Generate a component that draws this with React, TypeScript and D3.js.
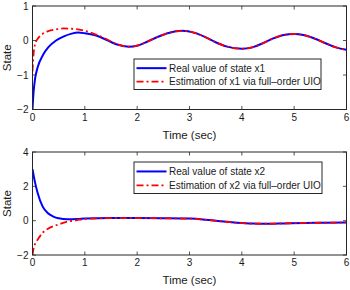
import React from "react";
import * as d3 from "d3";

const xTicks = [0, 1, 2, 3, 4, 5, 6];
const y1Ticks = [-2, -1, 0, 1];
const y2Ticks = [-2, 0, 2, 4];

const x1Time = [0, 0.02, 0.05, 0.1, 0.2, 0.3, 0.45, 0.6, 0.75, 0.87, 1.0, 1.2, 1.4, 1.6, 1.84, 2.0, 2.2, 2.4, 2.6, 2.86, 3.1, 3.3, 3.5, 3.7, 4.0, 4.2, 4.4, 4.6, 4.8, 5.0, 5.2, 5.4, 5.6, 5.8, 6.0];
const x1Real = [-2, -1.5, -1.1, -0.77, -0.42, -0.2, 0.0, 0.12, 0.2, 0.23, 0.21, 0.15, 0.03, -0.11, -0.18, -0.15, -0.03, 0.11, 0.22, 0.28, 0.22, 0.1, -0.05, -0.17, -0.24, -0.2, -0.08, 0.06, 0.16, 0.19, 0.15, 0.05, -0.08, -0.2, -0.27];
const x1Est = [-0.9, -0.4, -0.1, 0.05, 0.2, 0.27, 0.32, 0.35, 0.34, 0.32, 0.28, 0.18, 0.05, -0.1, -0.18, -0.15, -0.03, 0.11, 0.22, 0.28, 0.22, 0.1, -0.05, -0.17, -0.24, -0.2, -0.08, 0.06, 0.16, 0.19, 0.15, 0.05, -0.08, -0.2, -0.27];

const x2Time = [0, 0.03, 0.05, 0.1, 0.19, 0.29, 0.4, 0.5, 0.67, 0.85, 1.0, 1.5, 2.0, 2.5, 3.0, 3.3, 3.6, 3.9, 4.2, 4.5, 4.8, 5.2, 5.6, 6.0];
const x2Real = [3, 2.5, 2.2, 1.6, 0.85, 0.45, 0.24, 0.14, 0.08, 0.09, 0.12, 0.15, 0.15, 0.14, 0.12, 0.06, -0.04, -0.12, -0.17, -0.18, -0.16, -0.13, -0.12, -0.1];
const x2Est = [-2, -1.5, -1.35, -1.1, -0.72, -0.48, -0.32, -0.22, -0.05, 0.03, 0.1, 0.15, 0.15, 0.14, 0.12, 0.06, -0.04, -0.12, -0.17, -0.18, -0.16, -0.13, -0.12, -0.1];

const legend1 = ["Real value of state x1", "Estimation of x1 via full\u2013order UIO"];
const legend2 = ["Real value of state x2", "Estimation of x2 via full\u2013order UIO"];

const FONT = "'Liberation Sans', Arial, Helvetica, sans-serif";
const DASH = "7,3,2,3";

function fmt(v: number) {
  return v < 0 ? "\u2212" + Math.abs(v) : String(v);
}

type PanelProps = {
  id: string;
  top: number;
  bottom: number;
  yDomain: [number, number];
  yTicks: number[];
  time: number[];
  real: number[];
  est: number[];
  legend: string[];
  legendBox: { x: number; y: number; w: number; h: number };
};

function Panel(p: PanelProps) {
  const left = 32.5;
  const right = 346.5;
  const x = d3.scaleLinear().domain([0, 6]).range([left, right]);
  const y = d3.scaleLinear().domain(p.yDomain).range([p.bottom, p.top]);
  const line = d3
    .line<number>()
    .x((_, i) => x(p.time[i]))
    .y((d) => y(d))
    .curve(d3.curveMonotoneX);
  const tl = 3.5;
  const lb = p.legendBox;
  const row1 = lb.y + lb.h * 0.3;
  const row2 = lb.y + lb.h * 0.74;
  return (
    <g>
      <defs>
        <clipPath id={"clip" + p.id}>
          <rect x={left} y={p.top} width={right - left} height={p.bottom - p.top} />
        </clipPath>
      </defs>
      <rect x={left} y={p.top} width={right - left} height={p.bottom - p.top} fill="#fff" />
      <g clipPath={`url(#clip${p.id})`}>
        <path d={line(p.real) || ""} fill="none" stroke="#0000ff" strokeWidth={2} />
        <path d={line(p.est) || ""} fill="none" stroke="#ff0000" strokeWidth={1.8} strokeDasharray={DASH} />
      </g>
      {xTicks.map((t) => (
        <g key={"x" + t}>
          <line x1={x(t)} x2={x(t)} y1={p.bottom} y2={p.bottom - tl} stroke="#262626" strokeWidth={0.8} />
          <line x1={x(t)} x2={x(t)} y1={p.top} y2={p.top + tl} stroke="#262626" strokeWidth={0.8} />
          <text x={x(t)} y={p.bottom + 11} textAnchor="middle" fontSize={10} fontFamily={FONT} fill="#1a1a1a">
            {fmt(t)}
          </text>
        </g>
      ))}
      {p.yTicks.map((t) => (
        <g key={"y" + t}>
          <line x1={left} x2={left + tl} y1={y(t)} y2={y(t)} stroke="#262626" strokeWidth={0.8} />
          <line x1={right} x2={right - tl} y1={y(t)} y2={y(t)} stroke="#262626" strokeWidth={0.8} />
          <text x={left - 4} y={y(t) + 3.5} textAnchor="end" fontSize={10} fontFamily={FONT} fill="#1a1a1a">
            {fmt(t)}
          </text>
        </g>
      ))}
      <rect x={left} y={p.top} width={right - left} height={p.bottom - p.top} fill="none" stroke="#262626" strokeWidth={1} />
      <text x={(left + right) / 2} y={p.bottom + 29} textAnchor="middle" fontSize={11.5} fontFamily={FONT} fill="#1a1a1a">
        Time (sec)
      </text>
      <text
        transform={`translate(10.5, ${(p.top + p.bottom) / 2}) rotate(-90)`}
        textAnchor="middle"
        fontSize={11.5}
        fontFamily={FONT}
        fill="#1a1a1a"
      >
        State
      </text>
      <rect x={lb.x} y={lb.y} width={lb.w} height={lb.h} fill="#fff" stroke="#262626" strokeWidth={1} />
      <line x1={lb.x + 2.5} x2={lb.x + 32.5} y1={row1} y2={row1} stroke="#0000ff" strokeWidth={2} />
      <line x1={lb.x + 2.5} x2={lb.x + 32.5} y1={row2} y2={row2} stroke="#ff0000" strokeWidth={1.8} strokeDasharray={DASH} />
      <text x={lb.x + 35} y={row1 + 3.5} fontSize={10} fontFamily={FONT} fill="#1a1a1a">
        {p.legend[0]}
      </text>
      <text x={lb.x + 35} y={row2 + 3.5} fontSize={10} fontFamily={FONT} fill="#1a1a1a">
        {p.legend[1]}
      </text>
    </g>
  );
}

export default function App() {
  return (
    <div style={{ position: "absolute", left: 0, top: 0 }}>
      <svg width={350} height={290} style={{ display: "block", background: "#fff" }}>
        <rect width={350} height={290} fill="#fff" />
        <Panel
          id="a"
          top={6}
          bottom={109.5}
          yDomain={[-2, 1]}
          yTicks={y1Ticks}
          time={x1Time}
          real={x1Real}
          est={x1Est}
          legend={legend1}
          legendBox={{ x: 134, y: 59, w: 187, h: 30.5 }}
        />
        <Panel
          id="b"
          top={152}
          bottom={255}
          yDomain={[-2, 4]}
          yTicks={y2Ticks}
          time={x2Time}
          real={x2Real}
          est={x2Est}
          legend={legend2}
          legendBox={{ x: 134, y: 162, w: 188, h: 31.5 }}
        />
      </svg>
    </div>
  );
}
